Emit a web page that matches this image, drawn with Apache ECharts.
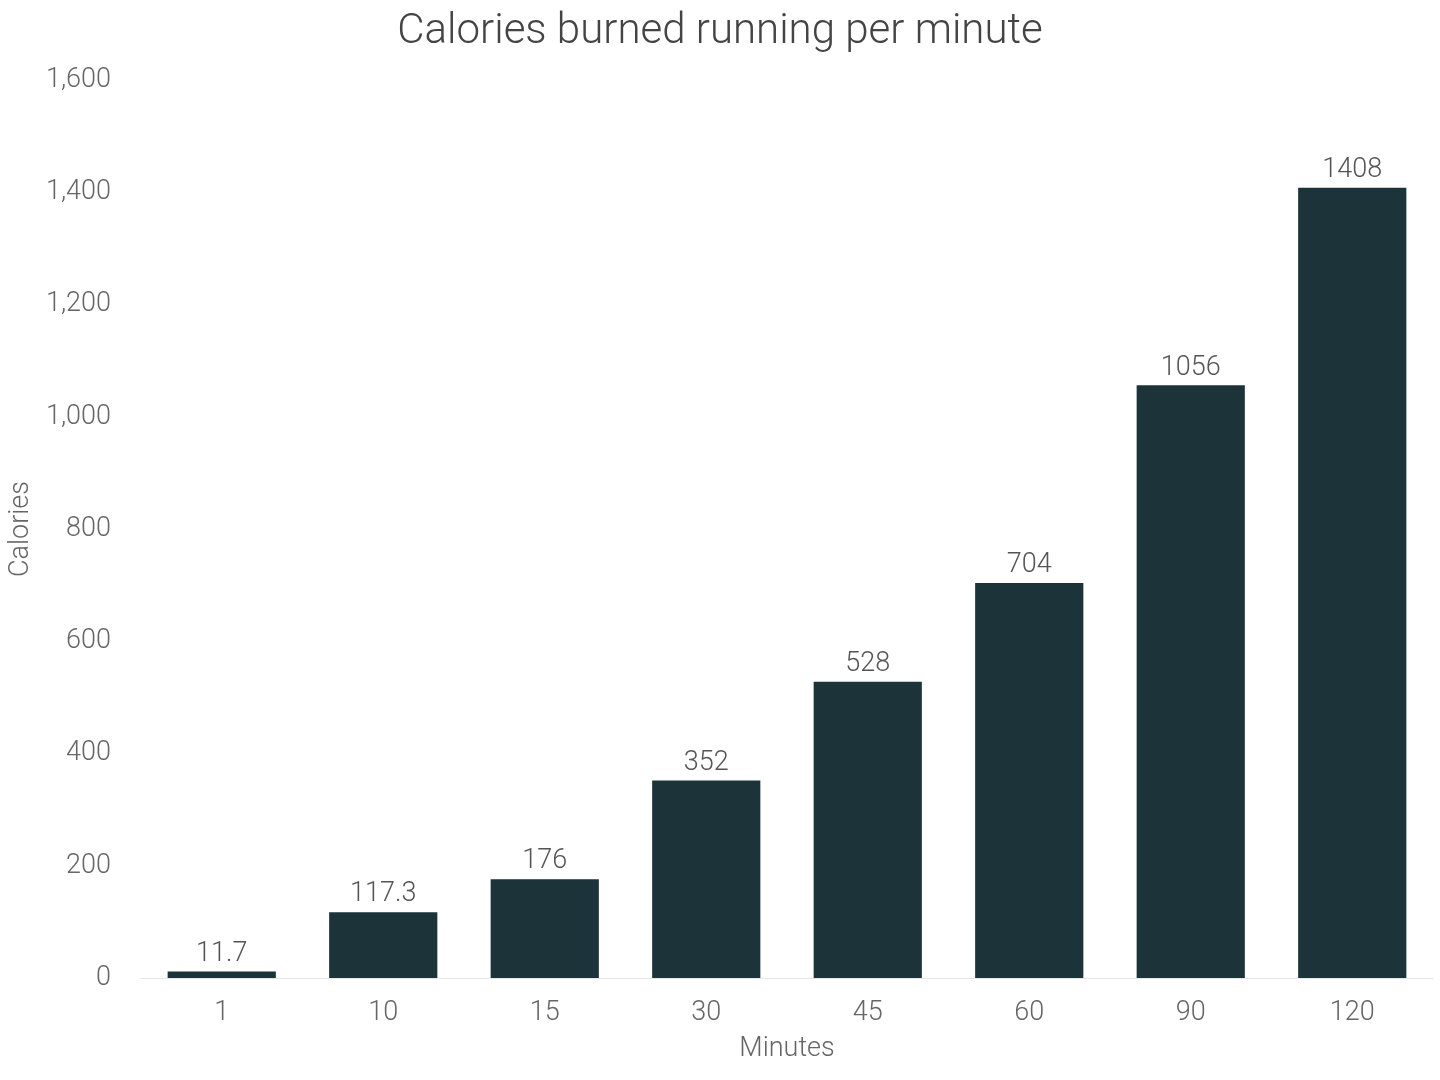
<!DOCTYPE html>
<html><head><meta charset="utf-8">
<script src="https://cdn.jsdelivr.net/npm/echarts@6/dist/echarts.min.js"></script>
<style>html,body{margin:0;padding:0;background:#fff}#c{width:1440px;height:1080px}</style>
</head><body><div id="c"></div>
<script>
const categories = ['1','10','15','30','45','60','90','120'];
const calories = [11.7,117.3,176,352,528,704,1056,1408];
const chart = echarts.init(document.getElementById('c'));
const font = 'Roboto';
chart.setOption({
  animation:false,
  title:{text:'Calories burned running per minute',left:'center',top:6,
    textStyle:{fontFamily:font,fontWeight:300,fontSize:42,color:'#444'}},
  grid:{left:140,right:7,top:80,bottom:102},
  xAxis:{type:'category',data:categories,name:'Minutes',nameLocation:'middle',nameGap:58,
    nameTextStyle:{fontFamily:font,fontWeight:300,fontSize:27,color:'#666'},
    axisLine:{lineStyle:{color:'#e6e6e6'}},axisTick:{show:false},
    axisLabel:{fontFamily:font,fontWeight:300,fontSize:27,color:'#666',margin:22}},
  yAxis:{type:'value',min:0,max:1600,interval:200,name:'Calories',nameLocation:'middle',nameGap:100,
    nameTextStyle:{fontFamily:font,fontWeight:300,fontSize:27,color:'#666'},
    splitLine:{show:false},axisLine:{show:false},axisTick:{show:false},
    axisLabel:{fontFamily:font,fontWeight:300,fontSize:27,color:'#666',margin:30}},
  series:[{type:'bar',data:calories,barWidth:'67%',itemStyle:{color:'#1c333a'},
    label:{show:true,position:'top',distance:4,fontFamily:font,fontWeight:300,fontSize:27,color:'#555'}}]
});
</script></body></html>
